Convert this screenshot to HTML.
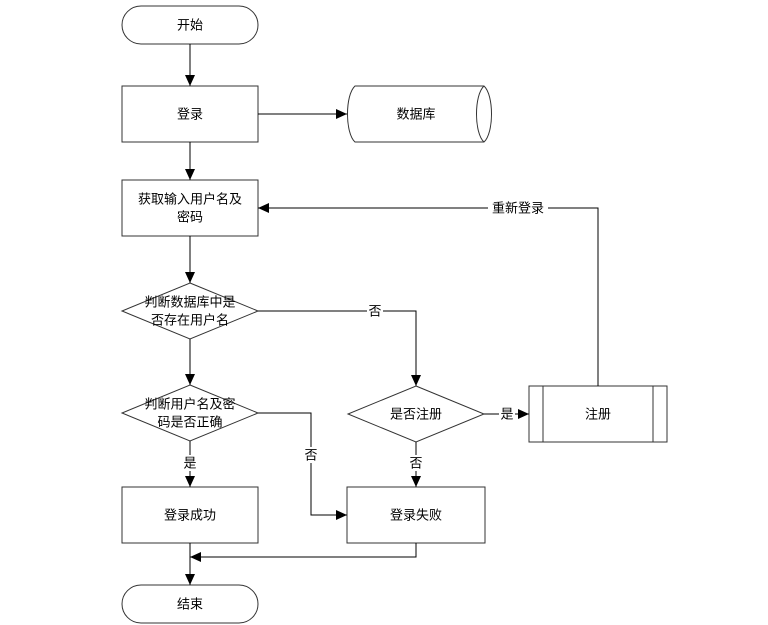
<!DOCTYPE html>
<html><head><meta charset="utf-8"><style>body{margin:0;background:#fff}svg{display:block}text{font-family:"Liberation Sans","Noto Sans CJK SC",sans-serif;font-size:13px;fill:#000}</style></head><body>
<svg width="768" height="625" viewBox="0 0 768 625">
<defs><marker id="a" markerWidth="12" markerHeight="12" refX="11" refY="6" orient="auto" markerUnits="userSpaceOnUse"><path d="M0,1 L11,6 L0,11 z" fill="#000"/></marker></defs>
<g fill="#fff" stroke="#333" stroke-width="1">
<rect x="122" y="6" width="136" height="38" rx="19"/>
<rect x="122" y="86" width="136" height="56"/>
<path d="M355,86 H484 C494,95 494,133 484,142 H355 C345,133 345,95 355,86 Z"/>
<path d="M484,86 C474,95 474,133 484,142" fill="none"/>
<rect x="122" y="180" width="136" height="56"/>
<path d="M190,283 L258,311 L190,339 L122,311 Z"/>
<path d="M190,385 L258,413 L190,441 L122,413 Z"/>
<path d="M416,386 L484,414 L416,442 L348,414 Z"/>
<rect x="529" y="386" width="138" height="56"/>
<line x1="543" y1="386" x2="543" y2="442"/><line x1="653" y1="386" x2="653" y2="442"/>
<rect x="122" y="487" width="136" height="56"/>
<rect x="347" y="487" width="138" height="56"/>
<rect x="122" y="585" width="136" height="38" rx="19"/>
</g>
<g fill="none" stroke="#000" stroke-width="1" marker-end="url(#a)">
<path d="M190,44 V86"/><path d="M258,114 H347"/><path d="M190,142 V180"/>
<path d="M190,236 V283"/><path d="M190,339 V385"/><path d="M190,441 V487"/>
<path d="M258,413 H311 V515 H347"/><path d="M258,311 H416 V386"/>
<path d="M416,442 V487"/><path d="M484,414 H529"/>
<path d="M598,386 V208 H258"/><path d="M416,543 V557 H190"/><path d="M190,543 V585"/>
</g>
<g fill="#fff"><rect x="182" y="455" width="16" height="16"/><rect x="303" y="447" width="16" height="16"/><rect x="367" y="303" width="16" height="16"/><rect x="408" y="455" width="16" height="16"/><rect x="499" y="406" width="16" height="16"/><rect x="488" y="200" width="60" height="16"/></g>
<g text-anchor="middle" dominant-baseline="central">
<text x="190" y="25">开始</text><text x="190" y="114">登录</text><text x="416" y="114">数据库</text>
<text x="190" y="199">获取输入用户名及</text><text x="190" y="217">密码</text>
<text x="190" y="302">判断数据库中是</text><text x="190" y="320">否存在用户名</text>
<text x="190" y="404">判断用户名及密</text><text x="190" y="422">码是否正确</text>
<text x="416" y="414">是否注册</text><text x="598" y="414">注册</text>
<text x="190" y="515">登录成功</text><text x="416" y="515">登录失败</text><text x="190" y="604">结束</text>
<text x="190" y="463">是</text><text x="311" y="455">否</text><text x="375" y="311">否</text><text x="416" y="463">否</text><text x="507" y="414">是</text><text x="518" y="208">重新登录</text>
</g>
</svg></body></html>
